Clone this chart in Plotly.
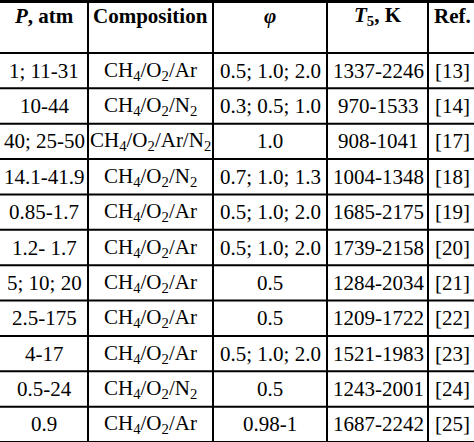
import plotly.graph_objects as go

headers = ["<b><i>P</i>, atm</b>", "<b>Composition</b>", "<b><i>φ</i></b>", "<b><i>T</i><sub>5</sub>, K</b>", "<b>Ref.</b>"]
pressure = ["1; 11-31", "10-44", "40; 25-50", "14.1-41.9", "0.85-1.7", "1.2- 1.7", "5; 10; 20", "2.5-175", "4-17", "0.5-24", "0.9"]
composition = ["CH<sub>4</sub>/O<sub>2</sub>/Ar", "CH<sub>4</sub>/O<sub>2</sub>/N<sub>2</sub>", "CH<sub>4</sub>/O<sub>2</sub>/Ar/N<sub>2</sub>",
               "CH<sub>4</sub>/O<sub>2</sub>/N<sub>2</sub>", "CH<sub>4</sub>/O<sub>2</sub>/Ar", "CH<sub>4</sub>/O<sub>2</sub>/Ar",
               "CH<sub>4</sub>/O<sub>2</sub>/Ar", "CH<sub>4</sub>/O<sub>2</sub>/Ar", "CH<sub>4</sub>/O<sub>2</sub>/Ar",
               "CH<sub>4</sub>/O<sub>2</sub>/N<sub>2</sub>", "CH<sub>4</sub>/O<sub>2</sub>/Ar"]
phi = ["0.5; 1.0; 2.0", "0.3; 0.5; 1.0", "1.0", "0.7; 1.0; 1.3", "0.5; 1.0; 2.0", "0.5; 1.0; 2.0", "0.5", "0.5", "0.5; 1.0; 2.0", "0.5", "0.98-1"]
t5 = ["1337-2246", "970-1533", "908-1041", "1004-1348", "1685-2175", "1739-2158", "1284-2034", "1209-1722", "1521-1983", "1243-2001", "1687-2242"]
refs = ["[13]", "[14]", "[17]", "[18]", "[19]", "[20]", "[21]", "[22]", "[23]", "[24]", "[25]"]

W, H = 474, 442
col_edges = [-10, 88, 213, 327, 428, 500]
header_bottom = 53
row_h = (H - header_bottom) / len(pressure)

fig = go.Figure()
font = dict(family="Liberation Serif", size=21, color="black")
ann = []
shapes = []
centers = [44, 150, 270, 378, 452]
for i, h in enumerate(headers):
    ann.append(dict(x=centers[i], y=16, text=h, showarrow=False, font=font, xref="x", yref="y"))
columns = [pressure, composition, phi, t5, refs]
for r in range(len(pressure)):
    yc = header_bottom + row_h * (r + 0.5)
    for c, col in enumerate(columns):
        ann.append(dict(x=centers[c], y=yc, text=col[r], showarrow=False, font=font, xref="x", yref="y"))
line = dict(color="black", width=2)
shapes.append(dict(type="line", x0=-10, x1=W + 10, y0=1.5, y1=1.5, line=dict(color="black", width=3), xref="x", yref="y"))
for r in range(len(pressure) + 1):
    y = header_bottom + row_h * r
    shapes.append(dict(type="line", x0=-10, x1=W + 10, y0=y, y1=y, line=line, xref="x", yref="y"))
for x in col_edges[1:5]:
    shapes.append(dict(type="line", x0=x, x1=x, y0=0, y1=H, line=line, xref="x", yref="y"))

fig.update_layout(width=W, height=H, margin=dict(l=0, r=0, t=0, b=0),
                  paper_bgcolor="white", plot_bgcolor="white",
                  xaxis=dict(range=[0, W], visible=False, fixedrange=True),
                  yaxis=dict(range=[H, 0], visible=False, fixedrange=True),
                  annotations=ann, shapes=shapes, showlegend=False)
fig.write_html("out.html", config={"displayModeBar": False},
               post_script="document.body.style.margin='0';document.body.style.overflow='hidden';")
